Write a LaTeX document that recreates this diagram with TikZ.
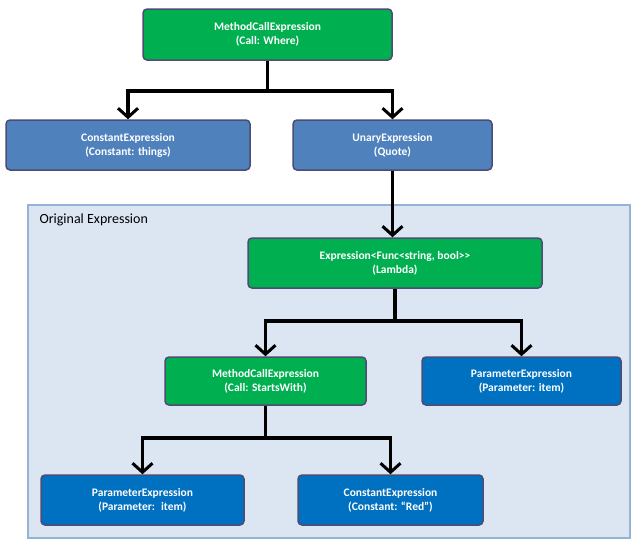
\documentclass[tikz,border=0pt]{standalone}
\usepackage{fontspec}
\setmainfont{Carlito}
\usetikzlibrary{arrows.meta, positioning, backgrounds}
\definecolor{callgreen}{RGB}{0,176,80}
\definecolor{constblue}{RGB}{79,129,189}
\definecolor{parblue}{RGB}{0,112,192}
\definecolor{boxfill}{RGB}{220,230,242}
\definecolor{boxline}{RGB}{149,179,215}
\begin{document}
\begin{tikzpicture}[x=1pt, y=-1pt]
	\tikzstyle{expr} = [ draw=black!60!blue!40!gray, line width=1.5pt, rounded corners=4pt, text=white, font={\bfseries\fontsize{11.5}{14}\selectfont}, align=center, inner sep=0pt];
	\tikzstyle{call} = [ expr, fill=callgreen ];
	\tikzstyle{const} = [ expr, fill=constblue ];
	\tikzstyle{param} = [ expr, fill=parblue ];
	\tikzstyle{link} = [ line width=3.5pt, -{Straight Barb[length=9pt, width=20pt, line width=3pt]} ];

	\useasboundingbox (0,0) rectangle (634,544);
	\draw[fill=boxfill, draw=boxline, line width=1.2pt] (28,205) rectangle (630,538);
	\node[anchor=west, font={\fontsize{14}{16}\selectfont}] (orig) at (36,220) {Original Expression};

	% upper part
	\node[call, minimum width=249pt, minimum height=51pt] (where) at (267.5,34.5) {MethodCallExpression\\(Call: Where)};
	\node[const, minimum width=244pt, minimum height=50pt] (things) at (128,145) {ConstantExpression\\(Constant: things)};
	\node[const, minimum width=199pt, minimum height=50pt] (quote) at (392.5,145) {UnaryExpression\\(Quote)};

	% lambda and below
	\node[call, minimum width=294pt, minimum height=50pt] (lambda) at (395,263) {Expression<Func<string, bool>{}>\\(Lambda)};
	\node[call, minimum width=201pt, minimum height=48pt] (starts) at (265.5,381) {MethodCallExpression\\(Call: StartsWith)};
	\node[param, minimum width=199pt, minimum height=48pt] (item) at (521.5,381) {ParameterExpression\\(Parameter: item)};
	\node[param, minimum width=203pt, minimum height=50pt] (item2) at (142.5,500) {ParameterExpression\\(Parameter:~ item)};
	\node[param, minimum width=185pt, minimum height=50pt] (red) at (390.5,500) {ConstantExpression\\(Constant: “Red”)};

	\draw[link] (where.south) |- ++(0,30) -| (things.north);
	\draw[link] (where.south) |- ++(0,30) -| (quote.north);
	\draw[link] (quote.south) -- (quote.south |- lambda.north);
	\draw[link] (lambda.south) |- ++(0,32) -| (starts.north);
	\draw[link] (lambda.south) |- ++(0,32) -| (item.north);
	\draw[link] (starts.south) |- ++(0,32) -| (item2.north);
	\draw[link] (starts.south) |- ++(0,32) -| (red.north);
\end{tikzpicture}
\end{document}
